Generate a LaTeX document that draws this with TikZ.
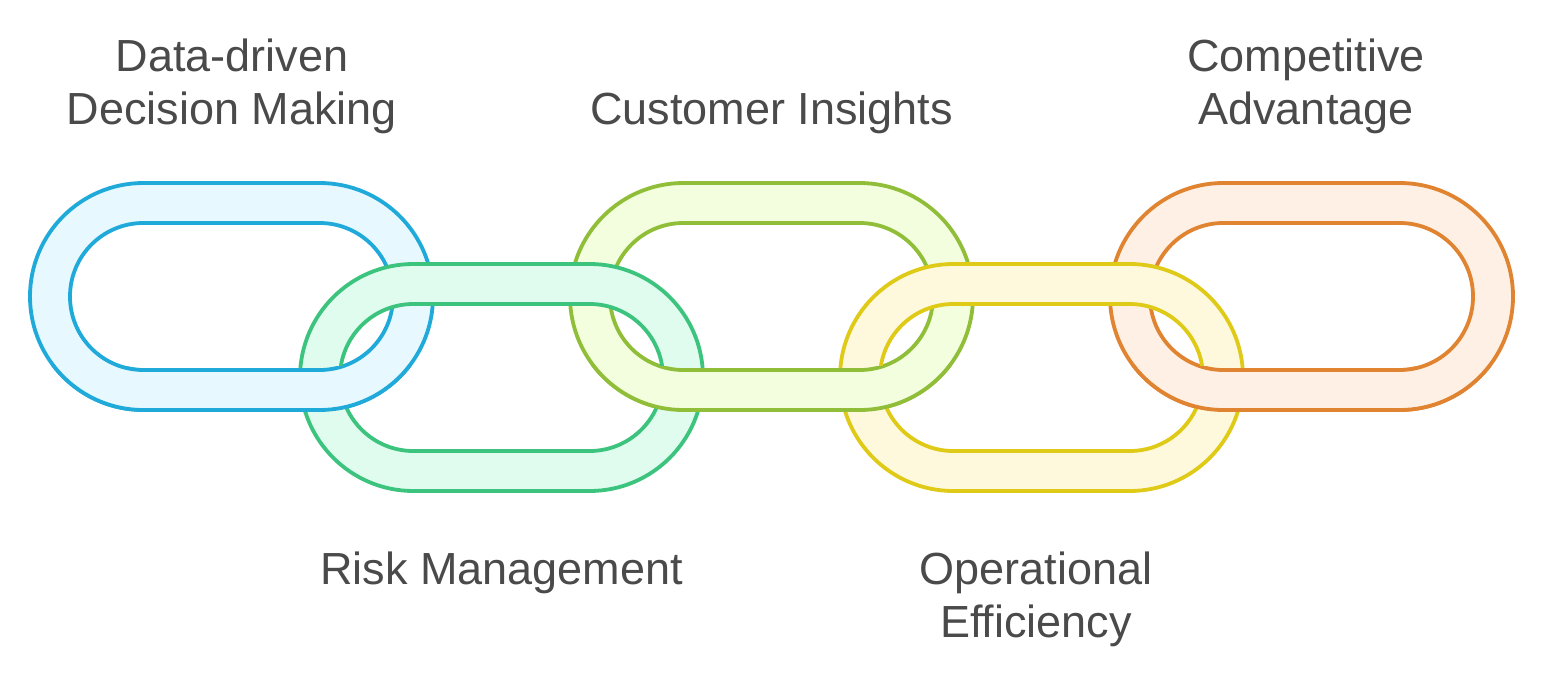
\documentclass[tikz,border=0pt]{standalone}
\usepackage{fontspec}
\setmainfont{Liberation Sans}
\usetikzlibrary{positioning}

\definecolor{txtgray}{RGB}{74,74,74}
\definecolor{blueline}{RGB}{32,170,218}
\definecolor{bluefill}{RGB}{231,248,254}
\definecolor{greenline}{RGB}{60,196,126}
\definecolor{greenfill}{RGB}{224,252,239}
\definecolor{limeline}{RGB}{144,190,56}
\definecolor{limefill}{RGB}{242,254,222}
\definecolor{yellowline}{RGB}{224,202,24}
\definecolor{yellowfill}{RGB}{254,249,220}
\definecolor{orangeline}{RGB}{224,132,50}
\definecolor{orangefill}{RGB}{254,240,228}

% one link of the chain: left x, top y, line colour, fill colour
\newcommand{\chainlink}[4]{%
  \path[draw=#3, fill=#4, even odd rule, line width=3.8pt]
    [rounded corners=113.4pt] (#1,#2) rectangle ++(403,227)
    [rounded corners=73.4pt] (#1+40,#2+40) rectangle ++(323,147);}

\begin{document}
\begin{tikzpicture}[x=1pt, y=-1pt]
\tikzstyle{lbl}=[text=txtgray, font=\fontsize{45}{53}\selectfont, align=center, inner sep=0pt, anchor=base]
\useasboundingbox (0,0) rectangle (1544,675);

% upper links
\foreach \x/\c in {30/blue, 570/lime, 1110/orange}
  \chainlink{\x}{183}{\c line}{\c fill};
% lower links lie over the sides of the upper ones
\foreach \x/\c in {300/green, 840/yellow}
  \chainlink{\x}{264}{\c line}{\c fill};
% bottom bands of the upper links go on top again
\foreach \x/\c in {30/blue, 570/lime, 1110/orange} {
  \begin{scope}
    \clip (\x-6,366) rectangle (\x+409,416);
    \chainlink{\x}{183}{\c line}{\c fill};
  \end{scope}
}

\node[lbl] (ddm) at (232,124)   {Data-driven\\Decision Making};
\node[lbl] (ci)  at (771.5,124) {Customer Insights};
\node[lbl] (ca)  at (1306,124)  {Competitive\\Advantage};
\node[lbl] (rm)  at (501.5,584) {Risk Management};
\node[lbl] (oe)  at (1036,637)  {Operational\\Efficiency};
\end{tikzpicture}
\end{document}
